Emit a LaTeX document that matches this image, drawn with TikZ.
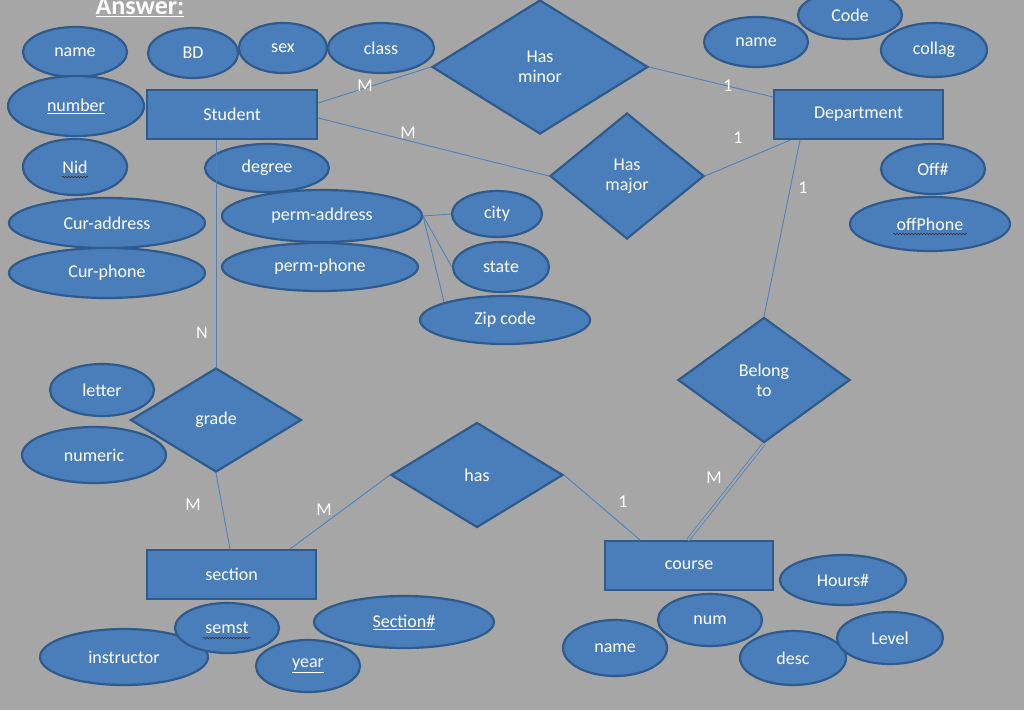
\documentclass[tikz,border=0pt]{standalone}
\usepackage{fontspec}
\setmainfont{Carlito}
\usetikzlibrary{shapes.geometric,decorations.pathmorphing}
\definecolor{bg}{HTML}{A6A6A6}
\definecolor{fillb}{HTML}{4A7EBB}
\definecolor{edgeb}{HTML}{2F5A8C}
\definecolor{lineb}{HTML}{4F81BD}
\begin{document}
\begin{tikzpicture}[x=1pt,y=-1pt,
  base/.style={fill=fillb,draw=edgeb,line width=2.2pt,text=white,font=\fontsize{18}{20}\selectfont,inner sep=0pt},
  att/.style={base,ellipse},
  ent/.style={base,rectangle,anchor=north west},
  rel/.style={base,diamond,align=center},
  conn/.style={draw=lineb,line width=0.9pt},
  card/.style={text=white,font=\fontsize{18}{20}\selectfont,inner sep=0pt},
  wavy/.style={draw=black!80,line width=0.6pt,decorate,decoration={snake,amplitude=0.8pt,segment length=3pt}}]
\fill[bg] (0,0) rectangle (1024,710);
\useasboundingbox (0,0) rectangle (1024,710);
\node[text=white,font=\bfseries\fontsize{26}{28}\selectfont,inner sep=0pt] (ans) at (140,7) {\underline{Answer:}};
% student attributes
\node[att,minimum width=104,minimum height=50] (sname) at (75,52) {name};
\node[att,minimum width=136,minimum height=60] (snum) at (76,106) {\underline{number}};
\node[att,minimum width=104,minimum height=56] (nid) at (75,167) {Nid};
\node[att,minimum width=196,minimum height=50] (cadd) at (107,223) {Cur-address};
\node[att,minimum width=196,minimum height=50] (cph) at (107,273) {Cur-phone};
\node[att,minimum width=90,minimum height=50] (bd) at (193,53) {BD};
\node[att,minimum width=88,minimum height=50] (sex) at (283,48) {sex};
\node[att,minimum width=106,minimum height=50] (cls) at (381,48) {class};
\node[ent,minimum width=170,minimum height=49] (stu) at (146,89) {Student};
\node[att,minimum width=124,minimum height=48] (deg) at (267,168) {degree};
\node[att,minimum width=200,minimum height=52] (padd) at (322,216) {perm-address};
\node[att,minimum width=196,minimum height=48] (pph) at (320,267) {perm-phone};
\node[att,minimum width=90,minimum height=46] (city) at (497,214) {city};
\node[att,minimum width=96,minimum height=50] (state) at (501,267) {state};
\node[att,minimum width=170,minimum height=48] (zip) at (505,320) {Zip code};
% relationships
\node[rel,minimum width=216,minimum height=134] (minor) at (540,67) {Has\\minor};
\node[rel,minimum width=154,minimum height=126] (major) at (627,176) {Has\\major};
\node[ent,minimum width=169,minimum height=49] (dept) at (773,89) {Department};
\node[att,minimum width=104,minimum height=50] (dname) at (756,42) {name};
\node[att,minimum width=104,minimum height=48] (code) at (850,15) {Code};
\node[att,minimum width=106,minimum height=54] (collag) at (934,50) {collag};
\node[att,minimum width=104,minimum height=50] (off) at (933,169) {Off\#};
\node[att,minimum width=160,minimum height=54] (offp) at (930,224) {offPhone};
\node[rel,minimum width=172,minimum height=125] (belong) at (764,380) {Belong\\to};
\node[ent,minimum width=168,minimum height=49] (course) at (604,540) {course};
\node[att,minimum width=126,minimum height=50] (hours) at (843,580) {Hours\#};
\node[att,minimum width=104,minimum height=52] (num) at (710,620) {num};
\node[att,minimum width=104,minimum height=56] (cname) at (615,648) {name};
\node[att,minimum width=106,minimum height=54] (desc) at (793,658) {desc};
\node[att,minimum width=106,minimum height=52] (level) at (890,638) {Level};
\node[rel,minimum width=172,minimum height=105] (has) at (477,475) {has};
\node[ent,minimum width=169,minimum height=49] (sec) at (146,549) {section};
\node[att,minimum width=180,minimum height=52] (secn) at (404,622) {\underline{Section\#}};
\node[att,minimum width=168,minimum height=56] (instr) at (124,657) {instructor};
\node[att,minimum width=104,minimum height=50] (semst) at (227,628) {semst};
\node[att,minimum width=104,minimum height=52] (year) at (308,666) {\underline{year}};
\node[rel,minimum width=171,minimum height=104] (grade) at (216,420) {grade};
\node[att,minimum width=104,minimum height=52] (letter) at (102,390) {letter};
\node[att,minimum width=144,minimum height=56] (numeric) at (94,455) {numeric};
% spelling squiggles
\draw[wavy] ([xshift=-13,yshift=-10]nid.center) -- ([xshift=13,yshift=-10]nid.center);
\draw[wavy] ([xshift=-24,yshift=-10]semst.center) -- ([xshift=24,yshift=-10]semst.center);
\draw[wavy] ([xshift=-37,yshift=-10]offp.center) -- ([xshift=37,yshift=-10]offp.center);
% connectors
\draw[conn] ([yshift=-14]stu.north east) -- (minor.west);
\draw[conn] ([yshift=-29]stu.north east) -- (major.west);
\draw[conn] (minor.east) -- ([yshift=-8]dept.north west);
\draw[conn] (major.east) -- ([xshift=17]dept.south west);
\draw[conn] ([xshift=27]dept.south west) -- (belong.north);
\draw[conn,double=bg,double distance=2pt,line width=0.8pt] (belong.south) -- ([xshift=84]course.north west);
\draw[conn] ([xshift=70]stu.south west) -- (grade.north);
\draw[conn] (grade.south) -- ([xshift=84]sec.north west);
\draw[conn] ([xshift=144]sec.north west) -- (has.west);
\draw[conn] (has.east) -- ([xshift=36]course.north west);
\draw[conn] (padd.east) -- (city.west);
\draw[conn] (padd.east) -- (state.west);
\draw[conn] (padd.east) -- (zip.north west);
% cardinalities
\node[card] (c1) at (365,86) {M};
\node[card] (c2) at (408,133) {M};
\node[card] (c3) at (728,86) {1};
\node[card] (c4) at (738,138) {1};
\node[card] (c5) at (803,188) {1};
\node[card] (c6) at (714,478) {M};
\node[card] (c7) at (202,333) {N};
\node[card] (c8) at (193,505) {M};
\node[card] (c9) at (324,510) {M};
\node[card] (c10) at (623,502) {1};
\end{tikzpicture}
\end{document}
